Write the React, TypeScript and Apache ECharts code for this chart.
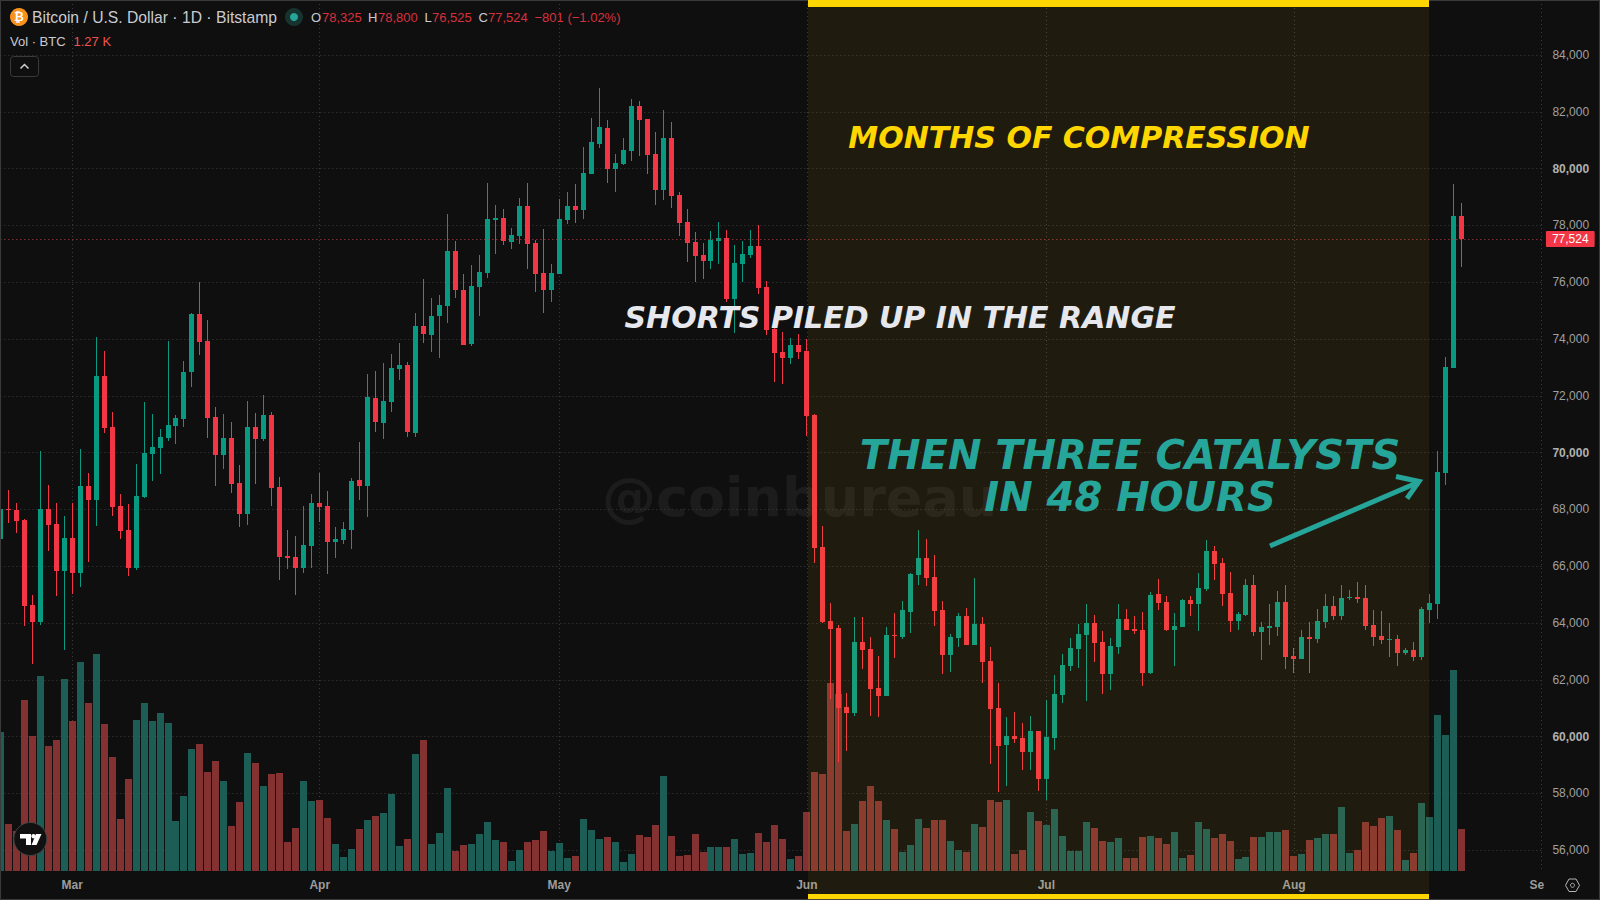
import React, { useEffect, useRef } from "react";
import * as echarts from "echarts";

const BG = "#0f0f0f";
const UP = "#089981";
const DOWN = "#f23645";
const UP_VOL = "#1c5d56";
const DOWN_VOL = "#843132";
const GRID = "#3c3c3c";

// [open, close, low, high], one row per day from 20 Feb
const candles: number[][] = [
  [66973,68016,66900,68100],[68016,67981,67524,68685],[67981,67594,67172,68228],[67630,64603,63899,67665],[64638,64040,62562,64990],
  [64040,68016,63934,70058],[68016,67454,66539,68861],[67489,65835,64955,68228],[65835,66996,63055,67770],[66996,65764,65037,68228],
  [65764,68826,65272,70128],[68826,68333,66151,69283],[68333,72697,67418,74069],[72697,70867,70691,73577],[70902,68087,67770,71430],
  [68122,67242,66961,68544],[67278,65940,65659,68192],[65940,68474,65870,69600],[68439,69999,68404,71782],[69952,70198,69002,71360],
  [70163,70550,69248,70832],[70515,70973,70409,73928],[70937,71219,70304,71324],[71184,72838,70902,73225],[72838,74879,72310,74902],
  [74879,73893,73436,75993],[73928,71219,70515,74667],[71254,69917,68826,71606],[69917,70515,69424,71360],[70515,68896,68580,71078],
  [68931,67841,67383,69565],[67841,70902,67454,71817],[70902,70480,68896,71395],[70480,71324,70409,72028],[71324,68756,68122,71430],
  [68791,66327,65518,69143],[66363,66292,65905,67278],[66327,65940,64990,67067],[65940,66750,65764,68122],[66714,68228,65940,68544],
  [68228,68087,67559,69283],[68122,66855,65729,68650],[66855,66961,66292,67383],[66926,67313,66785,67559],[67278,69002,66609,69107],
  [69037,68826,68333,70374],[68826,71958,67735,72767],[71923,71078,70726,72873],[71043,71817,70480,73154],[71782,72978,71430,73471],
  [72943,73084,72556,73858],[73083,70738,70559,73188],[70689,74458,70548,74916],[74458,74177,73860,76112],[74141,74810,73543,75444],
  [74810,75197,73332,75549],[75162,77097,74564,78400],[77097,75725,75444,77449],[75725,73790,73790,76288],[73825,75866,73754,76605],
  [75831,76359,74810,76957],[76323,78224,76147,79490],[78188,78259,76992,78716],[78259,77449,77309,78575],[77414,77661,77168,77907],
  [77625,78681,77344,78963],[78681,77344,76464,79490],[77379,76288,75655,77485],[76323,75725,74916,77872],[75725,76323,75303,76640],
  [76288,78224,76288,78927],[78188,78681,78048,79174],[78681,78540,78083,79455],[78540,79842,78224,80757],[79807,80933,79807,81778],
  [80863,81461,80722,82833],[81426,79983,79490,81707],[79983,80194,79174,80511],[80159,80652,80124,81074],[80617,82200,80265,82446],
  [82200,81707,80441,82376],[81743,80476,79807,81743],[80511,79244,78716,81285],[79244,81074,78892,82059],[81074,79033,78611,81637],
  [79068,78083,77625,79174],[78118,77379,76710,78575],[77414,76922,76007,77766],[76957,76746,76112,77379],[76746,77485,76464,77801],
  [77449,77555,76640,78118],[77555,75408,75303,77836],[75408,76675,74212,77309],[76640,76992,76007,77449],[76957,77273,76851,77836],
  [77273,75795,75584,78012],[75831,74317,74141,76042],[74353,73508,72488,74435],[73543,73332,72417,74247],[73332,73790,73121,74036],
  [73790,73543,73297,74177],[73576,71289,70585,73998],[71324,66644,66116,71359],[66679,64039,64004,67418],[64075,63793,61330,64708],
  [63828,61013,59113,63934],[61048,60837,59500,61541],[60837,63336,60732,64215],[63336,63054,62386,64215],[63089,61682,60732,63512],
  [61717,61435,60696,62843],[61435,63582,61435,63863],[63582,63547,62773,64356],[63512,64462,63441,64779],[64392,65729,63652,65764],
  [65693,66292,65342,67277],[66292,65588,65306,66960],[65623,64427,63899,66397],[64462,62878,62210,64779],[62878,63512,62280,63617],
  [63476,64251,63160,64356],[64251,63230,63230,64532],[63230,63969,63230,65588],[63969,62632,61893,64215],[62667,60978,59042,63160],
  [61013,59676,58057,61893],[59711,60028,58268,60696],[60028,59922,59782,60872],[59957,59465,58831,60485],[59465,60204,58831,60732],
  [60204,58515,58092,60204],[58515,59992,57776,61295],[59957,61506,59535,62174],[61471,62526,61189,62913],[62491,63125,62315,63476],
  [63089,63617,62421,63969],[63582,64004,61260,64673],[64004,63300,62632,64286],[63336,62210,61506,63723],[62210,63195,61647,63476],
  [63160,64145,62913,64673],[64145,63758,63758,64497],[63793,63723,63617,64251],[63758,62245,61787,64392],[62245,64990,62210,65095],
  [65025,64708,64462,65553],[64743,63758,63723,64954],[63758,63899,62491,64356],[63864,64814,63864,64849],[64814,64673,64251,64955],
  [64673,65237,63724,65765],[65201,66539,65131,66926],[66539,66081,65518,66715],[66116,65025,64603,66292],[65060,64075,63688,65800],
  [64075,64322,63759,64392],[64287,65342,64251,65553],[65342,63688,63547,65694],[63688,63864,62703,64040],[63829,63899,63231,64673],
  [63864,64744,63547,65131],[64744,62809,62386,65342],[62844,62738,62234,63125],[62738,63512,62738,63759],[63512,63442,62245,64040],
  [63442,64075,63301,64498],[64040,64603,63829,65025],[64603,64251,64110,64955],[64251,64885,64110,65342],[64885,64920,64814,65166],
  [64920,64849,64709,65448],[64885,63899,63759,65342],[63934,63512,63196,64462],[63547,63406,63266,64427],[63406,63442,62809,64005],
  [63442,62949,62492,63583],[62949,63055,62879,63125],[63055,62809,62668,63336],[62809,64498,62703,64568],[64462,64709,63993,65025],
  [64673,69319,64146,70057],[69283,73014,68861,73365],[72978,78327,72978,79453],[78325,77524,76525,78800],
];

const volumes: number[] = [
  4199,1420,1208,5166,4078,5891,3776,3958,5800,4532,6314,5075,6556,4441,3444,1571,2779,4562,5075,4532,
  4773,4471,1511,2266,3686,3837,2991,3323,2719,1359,2084,3565,3263,2568,2930,2961,876,1299,2719,2115,
  2145,1601,816,423,665,1269,1541,1662,1752,2326,755,967,3535,3958,816,1148,2507,604,785,816,
  1118,1480,937,876,302,634,876,937,1208,604,846,393,453,1571,1239,967,1027,876,272,514,
  1088,1027,1390,2870,1057,453,483,1118,574,725,725,725,967,514,544,1148,876,1390,967,363,
  453,1782,2991,2930,5679,5347,1208,1420,2115,2568,2115,1541,1269,574,785,1571,1299,1541,1541,906,
  634,574,1420,1329,2145,2084,2145,514,634,1782,1511,1390,1873,1057,604,604,1480,1299,906,876,
  997,393,393,1027,1057,997,816,1178,393,483,1480,1269,997,1118,906,363,423,1027,1027,1178,
  1178,1239,453,514,937,997,1118,1118,1933,544,634,1480,1359,1601,1662,1239,332,544,2054,1631,
  4713,4109,6072,1270,
];

const monthNames = ["Mar", "Apr", "May", "Jun", "Jul", "Aug", "Se"];
const monthIndexes = [9, 40, 70, 101, 131, 162, 193];
const boldTicks = [60000, 70000, 80000];
const lastPrice = 77524;
const lastVolume = 1270;
const lastVolumeText = "1.27 K";
const ohlcHeader = [
  { key: "O", value: "78,325", keyX: 311, valueX: 322 },
  { key: "H", value: "78,800", keyX: 368, valueX: 378 },
  { key: "L", value: "76,525", keyX: 424.5, valueX: 432 },
  { key: "C", value: "77,524", keyX: 478.5, valueX: 488 },
];

const categories = Array.from({ length: 194 }, (_, i) => String(i));
const isMonth = (idx: number) => monthIndexes.includes(idx);
const monthLabel = (idx: number) => {
  const name = monthNames[monthIndexes.indexOf(idx)] ?? "";
  return name === "Se" ? `{s|${name}}` : name;
};
const SANS = '"Liberation Sans", Arial, sans-serif';
const DEJAVU = '"DejaVu Sans", sans-serif';

const txt = (text: string, x: number, y: number, fill: string, size: number, extra: any = {}, z = 120) => ({
  type: "text",
  z,
  silent: true,
  style: {
    text, x, y, fill,
    fontSize: size,
    fontFamily: extra.fontFamily ?? SANS,
    fontWeight: extra.fontWeight ?? "normal",
    fontStyle: extra.fontStyle ?? "normal",
    textAlign: extra.textAlign ?? "left",
    textVerticalAlign: "middle",
  },
});

// one 5px body and a centred 1px wick, snapped to whole pixels, placed by the chart's scales
const renderCandle = (_p: any, api: any) => {
  const i = api.value(0);
  const open = api.value(1);
  const close = api.value(2);
  const fill = close >= open ? UP : DOWN;
  const [cx, yO] = api.coord([i, open]);
  const yC = api.coord([i, close])[1];
  const yL = api.coord([i, api.value(3)])[1];
  const yH = api.coord([i, api.value(4)])[1];
  const col = Math.floor(cx);
  const top = Math.round(Math.min(yO, yC));
  const bot = Math.max(top + 1, Math.round(Math.max(yO, yC)));
  const wickTop = Math.round(yH);
  return {
    type: "group",
    children: [
      { type: "rect", shape: { x: col, y: wickTop, width: 1, height: Math.max(1, Math.round(yL) - wickTop) }, style: { fill } },
      { type: "rect", shape: { x: col - 2, y: top, width: 5, height: bot - top }, style: { fill } },
    ],
  };
};

const renderVolume = (_p: any, api: any) => {
  const i = api.value(0);
  const [cx, yTop] = api.coord([i, api.value(1)]);
  const yBase = api.coord([i, 0])[1];
  const top = Math.round(yTop);
  const c = candles[i];
  return {
    type: "rect",
    shape: { x: Math.floor(cx) - 3, y: top, width: 7, height: Math.round(yBase) - top },
    style: { fill: c[1] >= c[0] ? UP_VOL : DOWN_VOL },
  };
};

export default function App() {
  const ref = useRef<HTMLDivElement>(null);
  useEffect(() => {
    const chart = echarts.init(ref.current!, undefined, { renderer: "svg" });
    const headline = { fontFamily: DEJAVU, fontWeight: "bold", fontStyle: "italic", textAlign: "center" };
    const graphics: any[] = [
      // watermark, under the series
      txt("@coinbureau", 602, 497, "rgba(255,255,255,0.055)", 54, { fontFamily: DEJAVU, fontWeight: "bold" }, 0),
      // highlighted range
      { type: "rect", z: 100, silent: true, shape: { x: 808, y: 0, width: 621, height: 900 }, style: { fill: "rgba(255,205,20,0.065)" } },
      { type: "rect", z: 101, silent: true, shape: { x: 808, y: 0, width: 621, height: 7 }, style: { fill: "#ffd600" } },
      { type: "rect", z: 101, silent: true, shape: { x: 808, y: 894, width: 621, height: 5 }, style: { fill: "#ffd600" } },
      // frame
      { type: "rect", z: 99, silent: true, shape: { x: 0.5, y: 0.5, width: 1599, height: 899 }, style: { fill: "none", stroke: "#3a3a3a", lineWidth: 1 } },
      // annotations
      txt("MONTHS OF COMPRESSION", 1079, 137, "#ffd600", 30, headline),
      txt("SHORTS PILED UP IN THE RANGE", 900, 317, "#e6e8ee", 30, headline),
      txt("THEN THREE CATALYSTS", 1130, 455, "#26a69a", 40, headline),
      txt("IN 48 HOURS", 1130, 497, "#26a69a", 40, headline),
      { type: "polyline", z: 120, silent: true, shape: { points: [[1270, 546], [1419, 482]] }, style: { stroke: "#26a69a", lineWidth: 5, fill: "none" } },
      { type: "polyline", z: 120, silent: true, shape: { points: [[1396, 476.5], [1419, 481.5], [1407, 498.5]] }, style: { stroke: "#26a69a", lineWidth: 5, fill: "none" } },
      // header
      { type: "circle", z: 120, silent: true, shape: { cx: 19, cy: 17, r: 9 }, style: { fill: "#f7931a" } },
      txt("₿", 19, 17, "#ffffff", 12, { fontWeight: "bold", textAlign: "center", fontFamily: DEJAVU }),
      txt("Bitcoin / U.S. Dollar · 1D · Bitstamp", 32, 17, "#c9cbd1", 15.7),
      { type: "circle", z: 120, silent: true, shape: { cx: 294, cy: 17, r: 9 }, style: { fill: "#17332f" } },
      { type: "circle", z: 121, silent: true, shape: { cx: 294, cy: 17, r: 4 }, style: { fill: "#26a69a" } },
      ...ohlcHeader.flatMap((h) => [
        txt(h.key, h.keyX, 17.5, "#c9cbd1", 13),
        txt(h.value, h.valueX, 17.5, "#d9303e", 13),
      ]),
      txt("−801 (−1.02%)", 534.5, 17.5, "#d9303e", 13),
      txt("Vol · BTC", 10, 41.5, "#c9cbd1", 13),
      txt(lastVolumeText, 73.5, 41.5, "#ef5350", 13),
      { type: "rect", z: 120, silent: true, shape: { x: 10.5, y: 56.5, width: 28, height: 20, r: 3 }, style: { fill: BG, stroke: "#3a3a3a", lineWidth: 1 } },
      { type: "polyline", z: 121, silent: true, shape: { points: [[20.5, 68.5], [24.5, 64.5], [28.5, 68.5]] }, style: { stroke: "#d0d0d0", lineWidth: 1.5, fill: "none" } },
      // TradingView badge
      { type: "circle", z: 120, silent: true, shape: { cx: 30.3, cy: 839, r: 16.5 }, style: { fill: "#111111", stroke: "#444444", lineWidth: 1 } },
      { type: "polygon", z: 121, silent: true, shape: { points: [[20, 834], [31, 834], [31, 845], [26, 845], [26, 838.5], [20, 838.5]] }, style: { fill: "#ffffff" } },
      { type: "circle", z: 121, silent: true, shape: { cx: 33.5, cy: 836.2, r: 2.2 }, style: { fill: "#ffffff" } },
      { type: "polygon", z: 121, silent: true, shape: { points: [[36, 834], [41.5, 834], [36.5, 845], [31.5, 845]] }, style: { fill: "#ffffff" } },
      // settings icon
      { type: "polygon", z: 120, silent: true, shape: { points: [[1565.5, 885.3], [1569, 879], [1576, 879], [1579.5, 885.3], [1576, 891.5], [1569, 891.5]] }, style: { fill: "none", stroke: "#b5b5b5", lineWidth: 1 } },
      { type: "circle", z: 120, silent: true, shape: { cx: 1572.5, cy: 885.3, r: 2 }, style: { fill: "none", stroke: "#b5b5b5", lineWidth: 1 } },
    ];

    chart.setOption({
      animation: false,
      backgroundColor: BG,
      textStyle: { fontFamily: SANS },
      grid: [
        { left: 0.33, width: 1541.1, top: 0, height: 907.1 },
        { left: 0.33, width: 1541.1, top: 0, height: 871 },
      ],
      xAxis: [
        {
          type: "category", gridIndex: 0, data: categories, boundaryGap: false,
          axisLine: { show: false }, axisTick: { show: false }, axisLabel: { show: false }, splitLine: { show: false },
        },
        {
          type: "category", gridIndex: 1, data: categories, boundaryGap: false,
          axisLine: { show: false }, axisTick: { show: false },
          axisLabel: {
            interval: (i: number) => isMonth(i),
            formatter: (_v: string, i: number) => monthLabel(i),
            color: "#9c9c9c", fontSize: 12, fontWeight: "bold", fontFamily: SANS, margin: 8,
            rich: { s: { color: "#9c9c9c", fontSize: 12, fontWeight: "bold", fontFamily: SANS, padding: [0, 9, 0, 0] } },
          },
          splitLine: {
            show: true,
            interval: (i: number) => isMonth(i),
            lineStyle: { color: GRID, type: [1, 3], width: 1 },
          },
        },
      ],
      yAxis: [
        {
          type: "value", gridIndex: 0, position: "right", min: 54000, max: 85940, interval: 2000,
          axisLine: { show: false }, axisTick: { show: false },
          splitLine: { show: true, lineStyle: { color: GRID, type: [1, 3], width: 1 } },
          axisLabel: {
            margin: 11, fontSize: 12,
            formatter: (v: number) => {
              if (v < 56000 || v > 84000) return "";
              const s = v.toLocaleString("en-US");
              return boldTicks.includes(v) ? `{b|${s}}` : `{n|${s}}`;
            },
            rich: {
              b: { color: "#b0b0b0", fontWeight: "bold", fontSize: 12, fontFamily: SANS },
              n: { color: "#a0a0a0", fontSize: 12, fontFamily: SANS },
            },
          },
        },
        {
          type: "value", gridIndex: 1, min: 0, max: 26340,
          axisLine: { show: false }, axisTick: { show: false }, axisLabel: { show: false }, splitLine: { show: false },
        },
      ],
      series: [
        {
          type: "custom", xAxisIndex: 1, yAxisIndex: 1, z: 1, silent: true,
          renderItem: renderVolume,
          encode: { x: 0, y: 1 },
          data: volumes.map((v, i) => [i, v]),
          markLine: {
            silent: true, symbol: "none", animation: false,
            lineStyle: { opacity: 0 },
            data: [{ yAxis: lastVolume }],
            label: {
              show: true, position: "end", distance: 4.5, formatter: lastVolumeText,
              backgroundColor: "#ef5350", color: "#ffffff", fontSize: 12, fontFamily: SANS,
              padding: [2, 7, 2, 7], borderRadius: 1,
            },
          },
        },
        {
          type: "custom", xAxisIndex: 0, yAxisIndex: 0, z: 3, silent: true,
          renderItem: renderCandle,
          encode: { x: 0, y: [1, 2, 3, 4] },
          data: candles.map((c, i) => [i, ...c]),
          markLine: {
            silent: true, symbol: "none", animation: false,
            lineStyle: { color: "#b5404c", type: [1, 3], width: 1 },
            data: [{ yAxis: lastPrice }],
            label: {
              show: true, position: "end", distance: 4.5, formatter: lastPrice.toLocaleString("en-US"),
              backgroundColor: DOWN, color: "#ffffff", fontSize: 12, fontFamily: SANS,
              padding: [2, 6, 2, 6], borderRadius: 1,
            },
          },
        },
      ],
      graphic: { elements: graphics },
    });
    return () => chart.dispose();
  }, []);
  return (
    <div style={{ position: "fixed", left: 0, top: 0, width: 1600, height: 900, overflow: "hidden", background: BG }}>
      <div ref={ref} style={{ width: 1600, height: 920 }} />
    </div>
  );
}
